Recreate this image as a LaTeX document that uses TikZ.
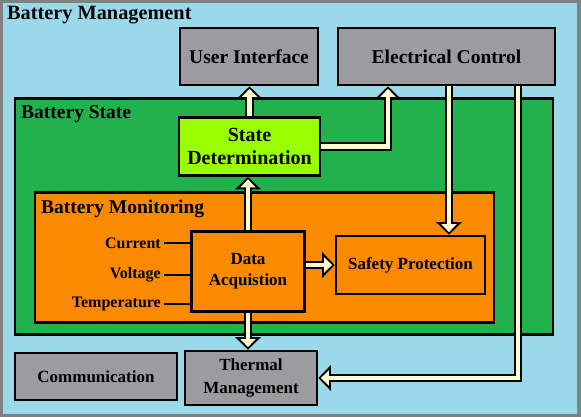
\documentclass[tikz,border=0pt]{standalone}
\usepackage{fontspec}
\setmainfont{Liberation Serif}
\usetikzlibrary{arrows.meta}

\definecolor{skyblue}{HTML}{99D9EA}
\definecolor{boxgray}{HTML}{9C9CA0}
\definecolor{stategreen}{HTML}{22B14C}
\definecolor{monorange}{HTML}{FB8A00}
\definecolor{limegreen}{HTML}{99FF00}
\definecolor{cream}{HTML}{FFFFD2}
\definecolor{framegray}{HTML}{808080}

\begin{document}
\begin{tikzpicture} [x=1pt, y=-1pt,
    block/.style={draw=black, line width=2.6pt, fill=boxgray, align=center, inner sep=0pt, font=\bfseries\fontsize{17}{21}\selectfont},
    bigblock/.style={block, font=\bfseries\fontsize{19.5}{23}\selectfont},
    area/.style={draw=black, line width=2.6pt, inner sep=0pt},
    arealabel/.style={anchor=base west, inner sep=0pt, font=\bfseries\fontsize{19.5}{23}\selectfont},
    inlabel/.style={anchor=east, inner sep=1pt, font=\bfseries\fontsize{16}{19}\selectfont},
    wire/.style={draw=black, line width=2.6pt},
    flow/.style={draw=cream, line width=4.4pt, shorten >=2.6pt, -{Triangle[length=8pt,width=15pt]},
      preaction={draw=black, line width=8.8pt, shorten >=0pt, -{Triangle[length=12.5pt,width=25pt]}}}]
  \useasboundingbox (0,0) rectangle (581,417);
  \fill[framegray] (0,0) rectangle (581,417);
  \fill[skyblue] (3,3) rectangle (577,414);

  \node[arealabel, font=\bfseries\fontsize{20.3}{24}\selectfont] (mgmt) at (7,20) {Battery Management};

  % top row
  \node[bigblock, minimum width=138pt, minimum height=57pt] (ui) at (249,56.5) {User Interface};
  \node[bigblock, minimum width=217pt, minimum height=57pt] (ec) at (446.5,56.5) {Electrical Control};

  % battery state
  \node[area, fill=stategreen, minimum width=538pt, minimum height=236pt] (state) at (284,216.5) {};
  \node[arealabel] (statelabel) at (21,119) {Battery State};
  \node[bigblock, fill=limegreen, minimum width=141pt, minimum height=58pt, font=\bfseries\fontsize{20}{23}\selectfont] (sd) at (249.5,146.5) {State\\Determination};

  % battery monitoring
  \node[area, fill=monorange, minimum width=459pt, minimum height=130pt] (mon) at (264.5,257.5) {};
  \node[arealabel] (monlabel) at (41,213) {Battery Monitoring};
  \node[block, fill=monorange, minimum width=113pt, minimum height=80pt] (da) at (248,271.5) {Data\\Acquistion};
  \node[block, fill=monorange, minimum width=149pt, minimum height=58pt] (sp) at (410.5,265) {Safety Protection};

  \foreach \name/\y in {Current/243, Voltage/275, Temperature/304}
    {\node[inlabel] (\name) at (162,\y) {\name};
     \draw[wire] ([xshift=2pt]\name.east) -- (\name.east -| da.west);}

  % bottom row
  \node[block, minimum width=162pt, minimum height=47pt] (comm) at (96,376.5) {Communication};
  \node[block, minimum width=132pt, minimum height=54pt, font=\bfseries\fontsize{17}{23}\selectfont] (tm) at (251,378) {Thermal\\Management};

  % flows
  \draw[flow] (sd.north) -- (sd.north |- ui.south);
  \draw[flow] (da.north) -- (da.north |- sd.south);
  \draw[flow] (sd.east) -| ([xshift=-58.5pt]ec.south);
  \draw[flow] ([xshift=2.5pt]ec.south) -- ([xshift=2.5pt]ec.south |- sp.north);
  \draw[flow] ([xshift=71.5pt]ec.south) |- (tm.east);
  \draw[flow] (da.east |- sp.west) -- (sp.west);
  \draw[flow] (da.south) -- (da.south |- tm.north);

\end{tikzpicture}
\end{document}
